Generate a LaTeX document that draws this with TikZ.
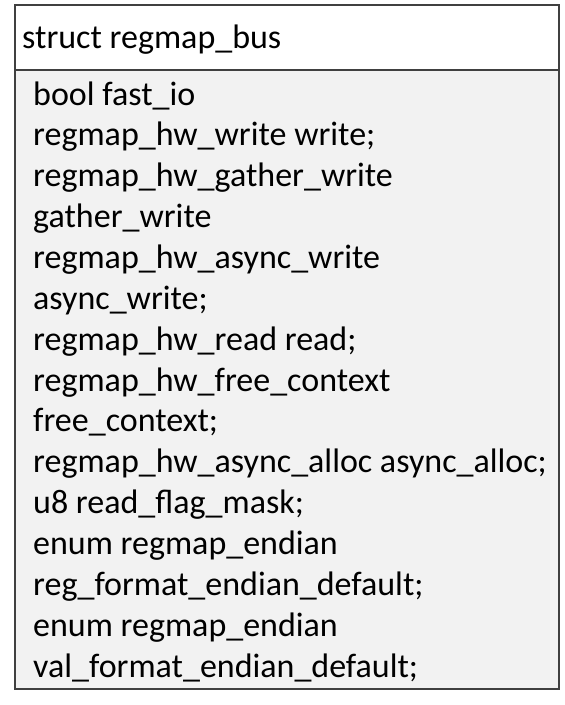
\documentclass[tikz,border=0pt]{standalone}
\usepackage{fontspec}
\setmainfont{Carlito}
\begin{document}
\begin{tikzpicture}[x=1pt,y=-1pt,
  txt/.style={anchor=base west,inner sep=0pt,font=\fontsize{34}{41}\selectfont,text=black},
  frame/.style={draw=black!75,line width=1.2pt}]
\useasboundingbox (0,0) rectangle (565,705);
\fill[white] (0,0) rectangle (565,705);
\path[fill=white] (15,5) rectangle (559,70);
\path[fill=black!5] (15,70) rectangle (559,689);
\draw[frame] (15,5) rectangle (559,689);
\draw[frame] (15,70) -- (559,70);
\node[txt] (h) at (22,48) {struct regmap\_bus};
\foreach \t [count=\i from 0] in {
bool fast\_io,
regmap\_hw\_write write;,
regmap\_hw\_gather\_write,
gather\_write,
regmap\_hw\_async\_write,
async\_write;,
regmap\_hw\_read read;,
regmap\_hw\_free\_context,
free\_context;,
regmap\_hw\_async\_alloc async\_alloc;,
u8 read\_flag\_mask;,
enum regmap\_endian,
reg\_format\_endian\_default;,
enum regmap\_endian,
val\_format\_endian\_default;}
{\node[txt] (l\i) at (33,{105+40.86*\i}) {\t};}
\end{tikzpicture}
\end{document}
